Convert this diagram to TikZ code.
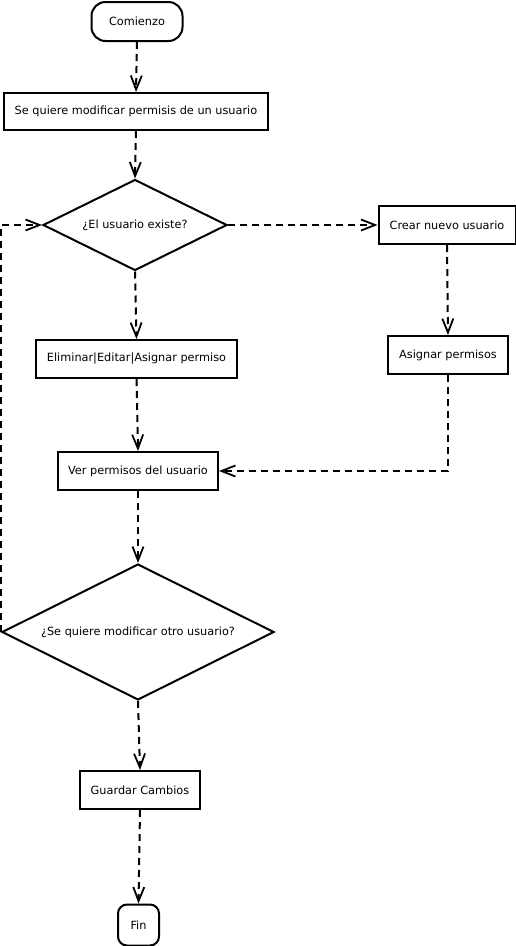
\documentclass[tikz,border=0pt]{standalone}
\usepackage{fontspec}
\setmainfont{DejaVu Sans}
\usetikzlibrary{shapes.geometric,arrows.meta}
\begin{document}
\begin{tikzpicture}[x=1pt,y=-1pt,
  box/.style={draw,line width=2pt,rectangle,inner sep=0pt,font=\fontsize{11.3}{13}\selectfont},
  term/.style={box,rounded corners=14pt},
  dec/.style={draw,line width=2pt,diamond,shape aspect=2,inner sep=0pt,font=\fontsize{11.3}{13}\selectfont},
  flow/.style={line width=2pt,dash pattern=on 7pt off 5pt,-{Straight Barb[length=14pt,width=11pt,line width=1.8pt]}}]
\useasboundingbox (0,0) rectangle (516,946);
\node[term,minimum width=91pt,minimum height=39pt] (start) at (137,21.5) {Comienzo};
\node[box,minimum width=264pt,minimum height=37pt] (b1) at (136,111.5) {Se quiere modificar permisis de un usuario};
\node[dec,minimum width=184pt,minimum height=91pt] (d1) at (135,225) {¿El usuario existe?};
\node[box,minimum width=137pt,minimum height=38pt] (crear) at (447,225) {Crear nuevo usuario};
\node[box,minimum width=120pt,minimum height=38pt] (asig) at (448,355) {Asignar permisos};
\node[box,minimum width=201pt,minimum height=38pt] (elim) at (136.5,359) {Eliminar|Editar|Asignar permiso};
\node[box,minimum width=160pt,minimum height=38pt] (ver) at (138,471) {Ver permisos del usuario};
\node[dec,minimum width=272pt,minimum height=136pt] (d2) at (138,632) {¿Se quiere modificar otro usuario?};
\node[box,minimum width=120pt,minimum height=38pt] (guardar) at (140,790) {Guardar Cambios};
\node[term,rounded corners=9pt,minimum width=41pt,minimum height=41pt] (fin) at (138.5,925) {Fin};
\draw[flow] (start.south) -- (b1.north);
\draw[flow] (b1.south) -- (d1.north);
\draw[flow] (d1.east) -- (crear.west);
\draw[flow] (crear.south) -- (asig.north);
\draw[flow] (asig.south) |- (ver.east);
\draw[flow] (d1.south) -- (elim.north);
\draw[flow] (elim.south) -- (ver.north);
\draw[flow] (ver.south) -- (d2.north);
\draw[flow] (d2.west) |- (d1.west);
\draw[flow] (d2.south) -- (guardar.north);
\draw[flow] (guardar.south) -- (fin.north);
\end{tikzpicture}
\end{document}
